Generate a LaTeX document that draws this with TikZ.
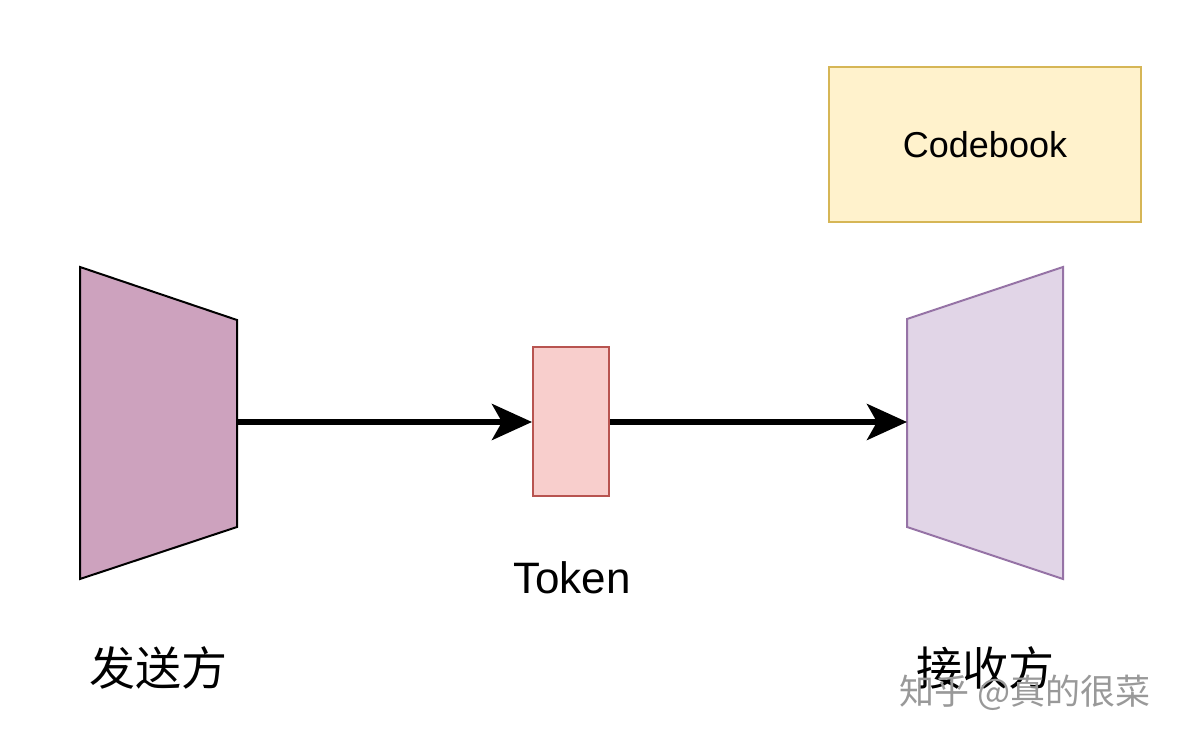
\documentclass[tikz,border=0pt]{standalone}
\usepackage{fontspec}
\setmainfont{Liberation Sans}
\newfontfamily\cjk{Noto Sans CJK SC}
\usetikzlibrary{arrows.meta,positioning}
\definecolor{sendfill}{HTML}{CDA2BE}
\definecolor{recvfill}{HTML}{E1D5E7}
\definecolor{recvline}{HTML}{9673A6}
\definecolor{tokfill}{HTML}{F8CECC}
\definecolor{tokline}{HTML}{B85450}
\definecolor{cbfill}{HTML}{FFF2CC}
\definecolor{cbline}{HTML}{D6B656}
\tikzset{
  sender/.style={draw=black,fill=sendfill,line width=2pt,line join=miter},
  receiver/.style={draw=recvline,fill=recvfill,line width=2pt,line join=miter},
  tokbox/.style={rectangle,draw=tokline,fill=tokfill,line width=2pt,
                 minimum width=76pt,minimum height=149pt,inner sep=0pt},
  cbbox/.style={rectangle,draw=cbline,fill=cbfill,line width=2pt,
                minimum width=312pt,minimum height=155pt,inner sep=0pt,
                font=\fontsize{36pt}{40pt}\selectfont},
  flow/.style={-{Stealth[length=40pt,width=36pt,inset=10pt]},line width=6pt,color=black},
  lbl/.style={inner sep=0pt,font=\fontsize{44pt}{48pt}\selectfont},
  cjklbl/.style={inner sep=0pt,font=\cjk\fontsize{46pt}{50pt}\selectfont},
}

\begin{document}
\begin{tikzpicture}[x=1pt,y=1pt]
  \useasboundingbox (0,0) rectangle (1180,744);
  % sender and receiver
  \draw[sender] (80,477) -- (237,424) -- (237,217) -- (80,165) -- cycle;
  \draw[receiver] (907,425) -- (1063,477) -- (1063,165) -- (907,217) -- cycle;
  \coordinate (sendout) at (237,322);
  \coordinate (recvin) at (907,322);
  % token and codebook
  \node[tokbox] (token) at (571,322) {};
  \node[cbbox] (codebook) at (985,599.5) {Codebook};
  \draw[flow] (sendout) -- (token.west);
  \draw[flow] (token.east) -- (recvin);
  % labels
  \node[lbl] (toklbl) at (572,166) {Token};
  \node[cjklbl] (sendlbl) at (158,76) {发送方};
  \node[cjklbl] (recvlbl) at (985,76) {接收方};
  \node[inner sep=0pt,text=black!40,font=\cjk\fontsize{35pt}{38pt}\selectfont]
    (mark) at (1025,51) {知乎 @真的很菜};
\end{tikzpicture}
\end{document}
